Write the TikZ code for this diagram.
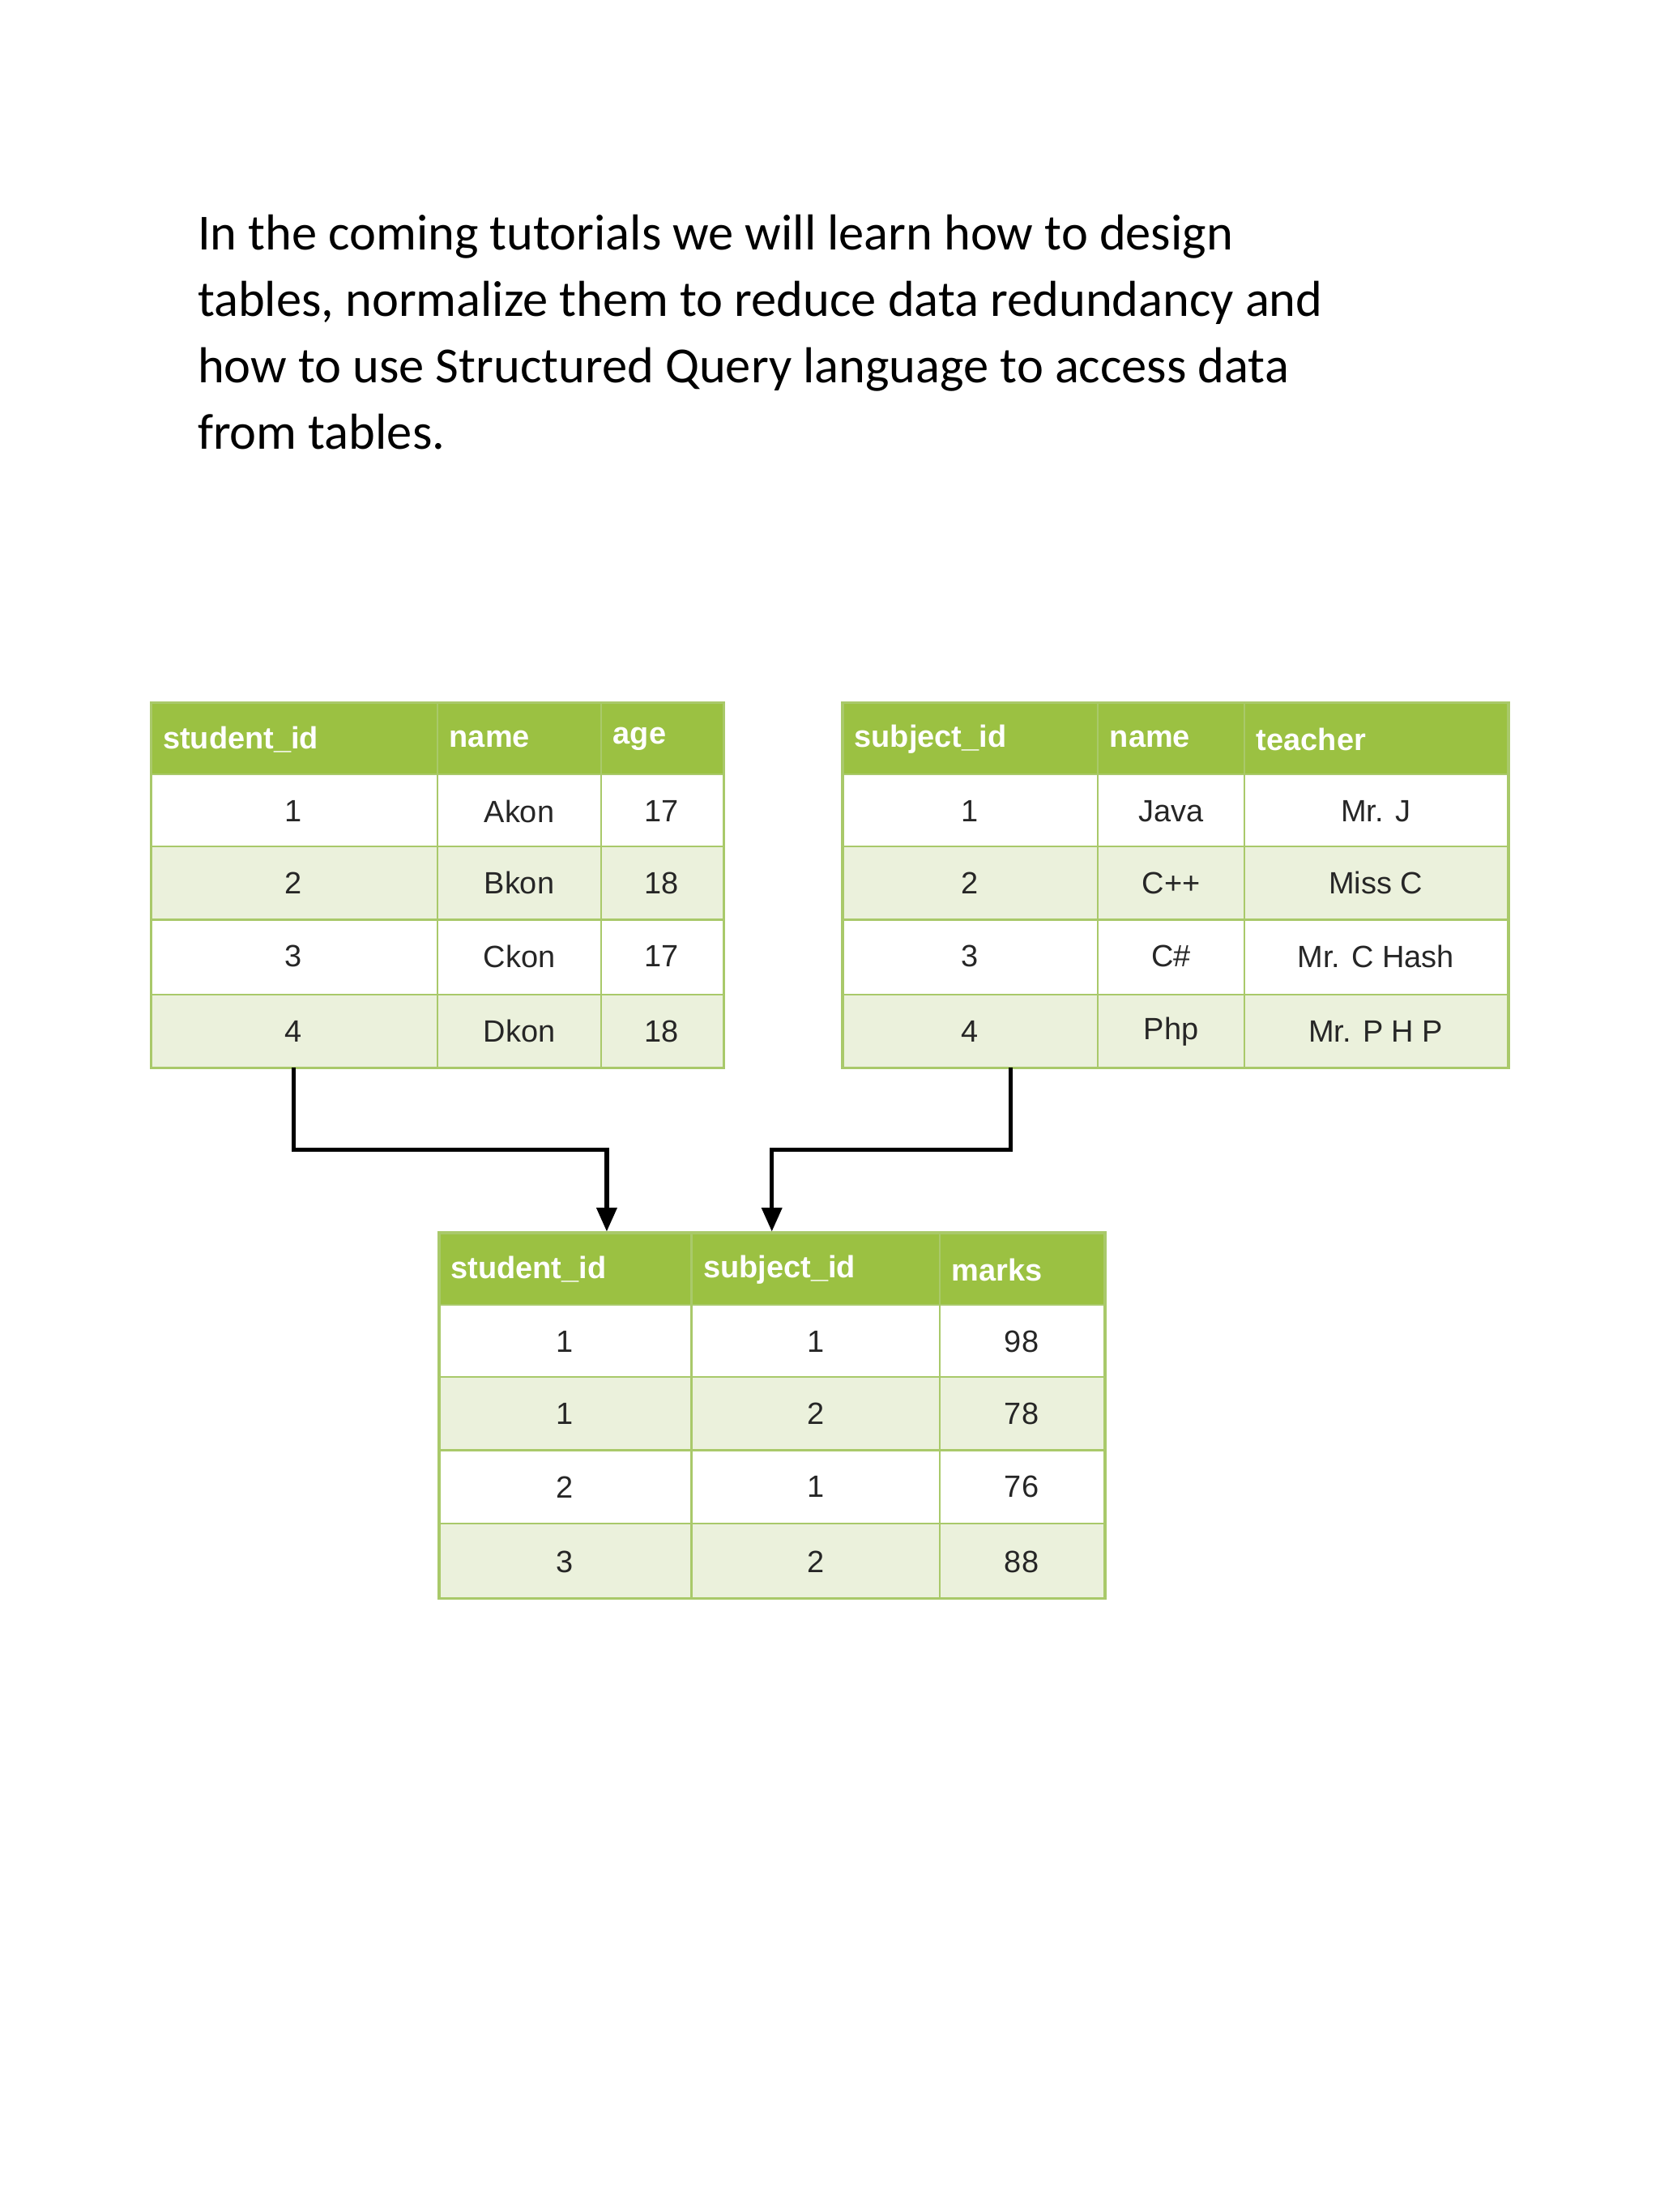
\documentclass[tikz,border=0pt]{standalone}
\usepackage{fontspec}
\setmainfont{Carlito}
\newfontfamily\tabfont{Liberation Sans}
\usetikzlibrary{arrows.meta}
\definecolor{hdr}{HTML}{9BC142}
\definecolor{alt}{HTML}{EBF1DC}
\definecolor{grid}{HTML}{A9C96A}
\tikzset{
  hcell/.style={anchor=west,text=white,font=\tabfont\bfseries\fontsize{31}{31}\selectfont},
  dcell/.style={anchor=center,text=black!85,font=\tabfont\fontsize{31}{31}\selectfont},
  conn/.style={line width=4.2pt,-{Triangle[length=24pt,width=20pt]}}
}
% #1 col xs list, #2 row ys, #3 x-left, #4 x-right, #5 top, #6 bottom
\newcommand{\mytable}[5]{%
}
\begin{document}
\begin{tikzpicture}[x=0.05cm,y=-0.05cm]
\useasboundingbox (0,0) rectangle (1176,1568);
\node[anchor=north west,align=left,font=\fontsize{51}{67}\selectfont,inner sep=0] (para) at (140,152)
{In the coming tutorials we will learn how to design\\tables, normalize them to reduce data redundancy and\\how to use Structured Query language to access data\\from tables.};

% generic table drawer
\def\drawtable#1#2#3#4#5#6{% name, x0, x1, y0, columns(list of inner x), unused
}
% ---------- Table 1 ----------
\fill[hdr] (107,498) rectangle (513,549);
\fill[alt] (107,600) rectangle (513,652);
\fill[alt] (107,705) rectangle (513,757);
\foreach \y in {549,600,652,705} \draw[grid,line width=2pt] (107,\y) -- (513,\y);
\foreach \x in {310,426} \draw[grid,line width=2pt] (\x,498) -- (\x,757);
\draw[grid,line width=3pt] (107,498) rectangle (513,757);
\node[hcell] (a-h1) at (113,524) {student\_id};
\node[hcell] (a-h2) at (316,524) {name};
\node[hcell] (a-h3) at (432,524) {age};
\foreach \r/\y/\a/\b/\c in {1/575/1/Akon/17,2/626/2/Bkon/18,3/678/3/Ckon/17,4/731/4/Dkon/18}{
  \node[dcell] (a-\r-1) at (208,\y) {\a};
  \node[dcell] (a-\r-2) at (368,\y) {\b};
  \node[dcell] (a-\r-3) at (469,\y) {\c};
}
\coordinate (a-out) at (208,757);

% ---------- Table 2 ----------
\fill[hdr] (597,498) rectangle (1069,549);
\fill[alt] (597,600) rectangle (1069,652);
\fill[alt] (597,705) rectangle (1069,757);
\foreach \y in {549,600,652,705} \draw[grid,line width=2pt] (597,\y) -- (1069,\y);
\foreach \x in {778,882} \draw[grid,line width=2pt] (\x,498) -- (\x,757);
\draw[grid,line width=3pt] (597,498) rectangle (1069,757);
\node[hcell] (b-h1) at (603,524) {subject\_id};
\node[hcell] (b-h2) at (784,524) {name};
\node[hcell] (b-h3) at (888,524) {teacher};
\foreach \r/\y/\a/\b/\c in {1/575/1/Java/Mr. J,2/626/2/C++/Miss C,3/678/3/C\#/Mr. C Hash,4/731/4/Php/Mr. P H P}{
  \node[dcell] (b-\r-1) at (687,\y) {\a};
  \node[dcell] (b-\r-2) at (830,\y) {\b};
  \node[dcell] (b-\r-3) at (975,\y) {\c};
}
\coordinate (b-out) at (716,757);

% ---------- Table 3 ----------
\fill[hdr] (311,874) rectangle (783,925);
\fill[alt] (311,976) rectangle (783,1028);
\fill[alt] (311,1080) rectangle (783,1133);
\foreach \y in {925,976,1028,1080} \draw[grid,line width=2pt] (311,\y) -- (783,\y);
\foreach \x in {490,666} \draw[grid,line width=2pt] (\x,874) -- (\x,1133);
\draw[grid,line width=3pt] (311,874) rectangle (783,1133);
\node[hcell] (c-h1) at (317,900) {student\_id};
\node[hcell] (c-h2) at (496,900) {subject\_id};
\node[hcell] (c-h3) at (672,900) {marks};
\foreach \r/\y/\a/\b/\c in {1/951/1/1/98,2/1002/1/2/78,3/1054/2/1/76,4/1107/3/2/88}{
  \node[dcell] (c-\r-1) at (400,\y) {\a};
  \node[dcell] (c-\r-2) at (578,\y) {\b};
  \node[dcell] (c-\r-3) at (724,\y) {\c};
}
\coordinate (c-in1) at (430,873);
\coordinate (c-in2) at (547,873);

\draw[conn] (a-out) |- (319,815) -| (c-in1);
\draw[conn] (b-out) |- (631,815) -| (c-in2);
\end{tikzpicture}
\end{document}
